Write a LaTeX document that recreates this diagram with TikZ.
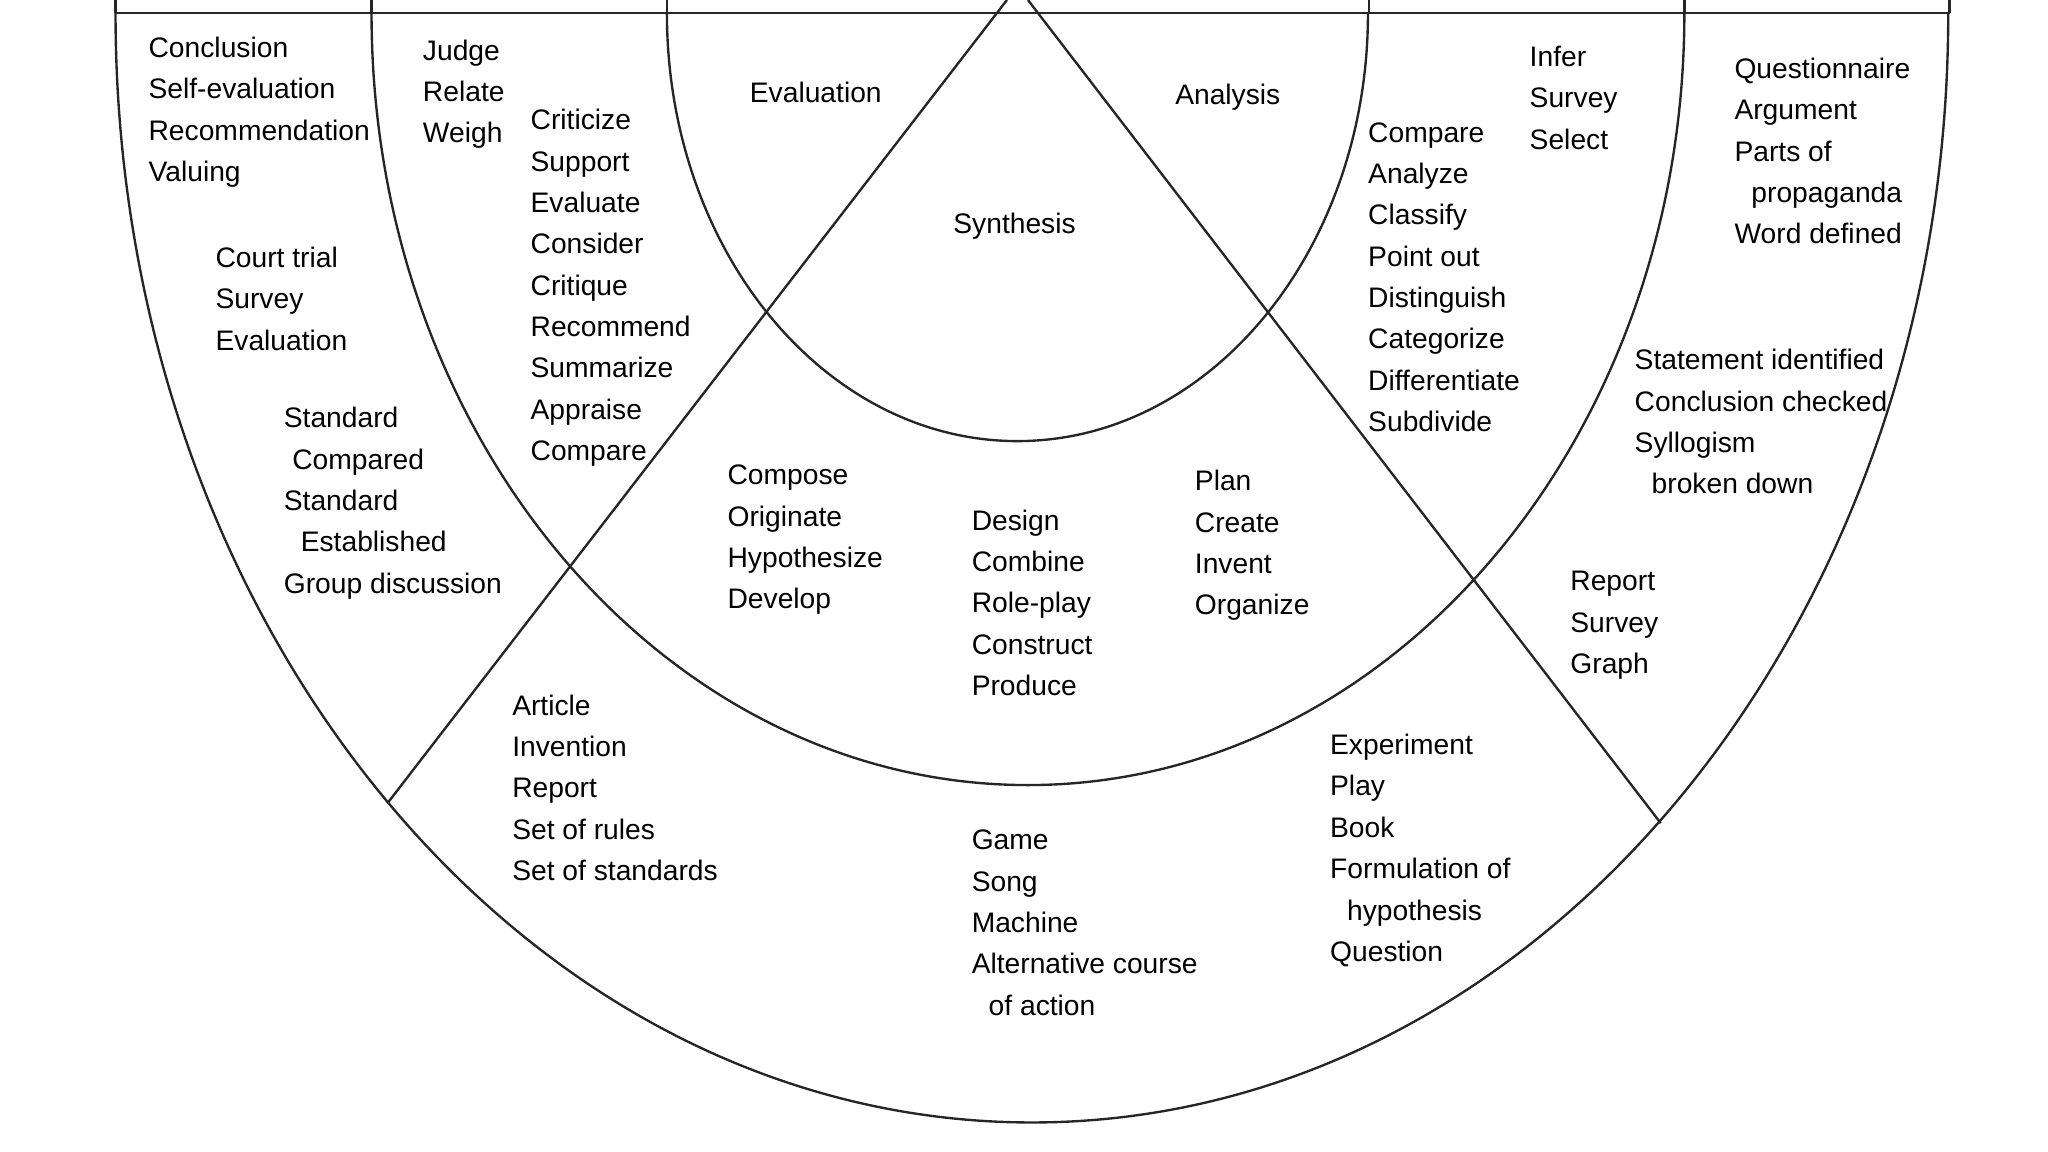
\documentclass[tikz,border=0pt]{standalone}
\usepackage{fontspec}
\setmainfont{Liberation Sans}
\begin{document}
\begin{tikzpicture}[x=1pt,y=-1pt,
  lbl/.style={anchor=north west,align=left,inner sep=0pt,font=\fontsize{21.5}{31.5}\selectfont},
  ln/.style={line width=1.8pt,black!85}]
\useasboundingbox (0,0) rectangle (1560,877.5);
\coordinate (apex) at (775,10);
\coordinate (ltop) at (767,0);
\coordinate (rtop) at (783,0);
\coordinate (lend) at (295,612);
\coordinate (rend) at (1265,627);
\draw[ln] (88,10) -- (1485,10);
\draw[ln] (88,10) arc[start angle=180,end angle=0,x radius=698,y radius=845];
\draw[ln] (283,10) arc[start angle=180,end angle=0,x radius=500,y radius=588];
\draw[ln] (508,10) arc[start angle=180,end angle=0,x radius=267,y radius=326];
\foreach \x in {88,283,508,1043,1283,1485} \draw[ln] (\x,10) -- (\x,0);
\draw[ln] (ltop) -- (lend);
\draw[ln] (rtop) -- (rend);
\node[lbl] (a) at (113,28) {Conclusion\\Self-evaluation\\Recommendation\\Valuing};
\node[lbl] (b) at (164,188) {Court trial\\Survey\\Evaluation};
\node[lbl] (c) at (216,310) {Standard\\\hspace{0.3em}Compared\\Standard\\\hspace{0.6em}Established\\Group discussion};
\node[lbl] (d) at (322,30) {Judge\\Relate\\Weigh};
\node[lbl] (e) at (404,83) {Criticize\\Support\\Evaluate\\Consider\\Critique\\Recommend\\Summarize\\Appraise\\Compare};
\node[lbl] (f) at (571,62) {Evaluation};
\node[lbl] (g) at (895,64) {Analysis};
\node[lbl] (h) at (726,162) {Synthesis};
\node[lbl] (i) at (554,354) {Compose\\Originate\\Hypothesize\\Develop};
\node[lbl] (j) at (740,388) {Design\\Combine\\Role-play\\Construct\\Produce};
\node[lbl] (k) at (910,358) {Plan\\Create\\Invent\\Organize};
\node[lbl] (l) at (1042,93) {Compare\\Analyze\\Classify\\Point out\\Distinguish\\Categorize\\Differentiate\\Subdivide};
\node[lbl] (m) at (1165,35) {Infer\\Survey\\Select};
\node[lbl] (n) at (1321,44) {Questionnaire\\Argument\\Parts of\\\hspace{0.6em}propaganda\\Word defined};
\node[lbl] (o) at (1245,266) {Statement identified\\Conclusion checked\\Syllogism\\\hspace{0.6em}broken down};
\node[lbl] (p) at (1196,435) {Report\\Survey\\Graph};
\node[lbl] (q) at (390,529) {Article\\Invention\\Report\\Set of rules\\Set of standards};
\node[lbl] (r) at (740,632) {Game\\Song\\Machine\\Alternative course\\\hspace{0.6em}of action};
\node[lbl] (s) at (1013,559) {Experiment\\Play\\Book\\Formulation of\\\hspace{0.6em}hypothesis\\Question};
\end{tikzpicture}
\end{document}
